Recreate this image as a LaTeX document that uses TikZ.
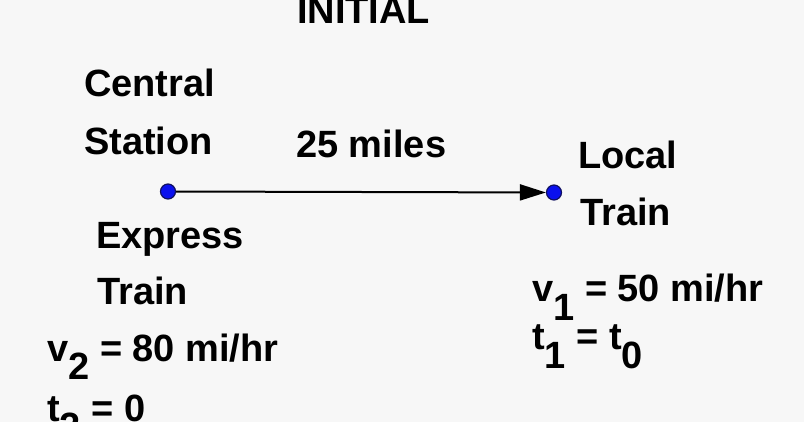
\documentclass[tikz,border=0pt]{standalone}
\usepackage{fontspec}
\setmainfont{Liberation Sans}
\usetikzlibrary{arrows.meta}
\definecolor{bg}{HTML}{F7F7F7}
\definecolor{dotblue}{HTML}{0A10EE}
\definecolor{dotrim}{HTML}{101060}
\newcommand{\txtsz}{\fontsize{38}{46}\selectfont\bfseries}
\newcommand{\subsc}[1]{\raisebox{-18pt}{#1}}
\begin{document}
\begin{tikzpicture}[x=1pt,y=-1pt,
  lbl/.style={anchor=base west, inner sep=0pt, font=\txtsz},
  dotnode/.style={circle, fill=dotblue, draw=dotrim, line width=1.2pt, minimum size=15pt, inner sep=0pt}]
\fill[bg] (0,0) rectangle (804,422);
\useasboundingbox (0,0) rectangle (804,422);
\node[lbl] (title) at (297,24) {INITIAL};
\node[lbl] (central) at (84,97) {Central};
\node[lbl] (station) at (84,155) {Station};
\node[lbl] (dist) at (296,158) {25 miles};
\node[lbl] (local) at (578,169) {Local};
\node[lbl] (ltrain) at (580,226) {Train};
\node[lbl] (express) at (96,249) {Express};
\node[lbl] (etrain) at (97,305) {Train};
\node[lbl] (v2) at (47,362) {v\subsc{2} = 80 mi/hr};
\node[lbl] (t2) at (47,421) {t\subsc{2} = 0};
\node[lbl] (v1) at (532,302) {v\subsc{1} = 50 mi/hr};
\node[lbl] (t1) at (532,350) {t\subsc{1} = t\subsc{0}};
\node[dotnode] (a) at (168,191.5) {};
\node[dotnode] (b) at (554,192.5) {};
\draw[line width=2pt, -{Triangle[length=26pt,width=16pt]}] (a) -- (b);
\end{tikzpicture}
\end{document}
